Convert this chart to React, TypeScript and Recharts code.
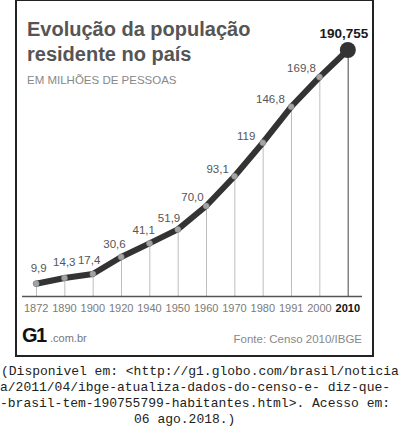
import React from "react";
import { Bar, Cell, ComposedChart, LabelList, Line, XAxis, YAxis } from "recharts";

// Evolução da população residente no país (milhões de pessoas) — Censo/IBGE
const years = ["1872", "1890", "1900", "1920", "1940", "1950", "1960", "1970", "1980", "1991", "2000", "2010"];
const population = [9.9, 14.3, 17.4, 30.6, 41.1, 51.9, 70.0, 93.1, 119, 146.8, 169.8, 190.755];
const valueLabels = ["9,9", "14,3", "17,4", "30,6", "41,1", "51,9", "70,0", "93,1", "119", "146,8", "169,8", "190,755"];

const captionLines = [
  "(Disponivel em: <http://g1.globo.com/brasil/noticia",
  "a/2011/04/ibge-atualiza-dados-do-censo-e- diz-que-",
  "-brasil-tem-190755799-habitantes.html>. Acesso em:",
  "06 ago.2018.)",
];

const data = years.map((year, i) => ({ year, pop: population[i], label: valueLabels[i] }));

const SANS = '"Liberation Sans", Arial, sans-serif';
const MONO = '"Liberation Mono", "Courier New", monospace';
const LAST = years.length - 1;

// chart geometry (plot height / y max) used only to nudge labels off the line
const PLOT_TOP = 50;
const AXIS_Y = 296.5;
const pxPerUnit = (AXIS_Y - PLOT_TOP) / population[LAST];

function localRise(i: number) {
  const prev = i > 0 ? population[i] - population[i - 1] : null;
  const next = i < LAST ? population[i + 1] - population[i] : null;
  const d = prev !== null && next !== null ? (prev + next) / 2 : (prev ?? next ?? 0);
  return d * pxPerUnit;
}

function ValueLabel(props: any) {
  const { x, y, index } = props;
  if (index === LAST) {
    return (
      <text x={x - 4} y={y - 12} textAnchor="middle" fontFamily={SANS} fontSize={13.5} fontWeight={700} fill="#1a1a1a">
        {valueLabels[index]}
      </text>
    );
  }
  const s = localRise(index);
  return (
    <text
      x={x + 14 - 0.62 * s}
      y={y - 13.5 + 0.31 * s}
      textAnchor="end"
      fontFamily={SANS}
      fontSize={11.5}
      fill="#555"
    >
      {valueLabels[index]}
    </text>
  );
}

function Dot(props: any) {
  const { cx, cy, index } = props;
  if (index === LAST) {
    return <circle key={`d${index}`} cx={cx} cy={cy} r={8} fill="#333" />;
  }
  return <circle key={`d${index}`} cx={cx} cy={cy} r={3} fill="#a3a3a3" stroke="#8a8a8a" strokeWidth={0.6} />;
}

function YearTick(props: any) {
  const { x, y, payload, index } = props;
  const bold = index === LAST;
  return (
    <text
      x={x}
      y={y}
      dy="0.71em"
      textAnchor="middle"
      fontFamily={SANS}
      fontSize={11}
      fontWeight={bold ? 700 : 400}
      fill={bold ? "#111" : "#7a7a7a"}
    >
      {payload.value}
    </text>
  );
}

const abs = (style: React.CSSProperties): React.CSSProperties => ({ position: "absolute", ...style });

export default function App() {
  return (
    <div style={abs({ left: 0, top: 0, width: 402, height: 426, overflow: "hidden", background: "#fff" })}>
      <div
        style={abs({
          left: 15,
          top: 0,
          width: 359,
          height: 357,
          border: "2px solid #222",
          borderTopWidth: 1.5,
          boxSizing: "border-box",
        })}
      />

      <div style={abs({ left: 27, top: 17, fontFamily: SANS, fontSize: 20, fontWeight: 700, lineHeight: "25px", color: "#555" })}>
        Evolução da população
        <br />
        residente no país
      </div>
      <div style={abs({ left: 27, top: 74.5, fontFamily: SANS, fontSize: 11.5, lineHeight: "11.5px", color: "#888" })}>
        EM MILHÕES DE PESSOAS
      </div>

      <div style={abs({ left: 0, top: 0 })}>
        <ComposedChart width={402} height={330} data={data} margin={{ top: PLOT_TOP, right: 40, bottom: 3.5, left: 22 }}>
          <XAxis
            dataKey="year"
            interval={0}
            tickLine={false}
            axisLine={{ stroke: "#555", strokeWidth: 1.6 }}
            tick={<YearTick />}
          />
          <YAxis hide domain={[0, "dataMax"]} />
          <Bar dataKey="pop" barSize={1} isAnimationActive={false}>
            {data.map((d, i) => (
              <Cell key={d.year} fill={i === LAST ? "#444" : "#bdbdbd"} />
            ))}
          </Bar>
          <Line
            dataKey="pop"
            type="linear"
            stroke="#333"
            strokeWidth={6}
            strokeLinejoin="round"
            strokeLinecap="round"
            dot={Dot}
            activeDot={false}
            isAnimationActive={false}
          >
            <LabelList dataKey="pop" content={ValueLabel} />
          </Line>
        </ComposedChart>
      </div>

      <div style={abs({ left: 22, top: 325, fontFamily: SANS, fontSize: 20, fontWeight: 900, lineHeight: "20px", color: "#111", letterSpacing: -1.5 })}>
        G1
      </div>
      <div style={abs({ left: 50, top: 333, fontFamily: SANS, fontSize: 11, lineHeight: "11px", color: "#777" })}>.com.br</div>
      <div style={abs({ right: 40, top: 333.5, fontFamily: SANS, fontSize: 11.5, lineHeight: "11.5px", color: "#888" })}>
        Fonte: Censo 2010/IBGE
      </div>

      {captionLines.map((line, i) => (
        <div
          key={i}
          style={abs({
            left: i === 3 ? 134 : i === 0 ? 1 : 0,
            top: 364 + i * 16,
            fontFamily: MONO,
            fontSize: 13,
            lineHeight: "16px",
            color: "#222",
            whiteSpace: "pre",
          })}
        >
          {line}
        </div>
      ))}
    </div>
  );
}
